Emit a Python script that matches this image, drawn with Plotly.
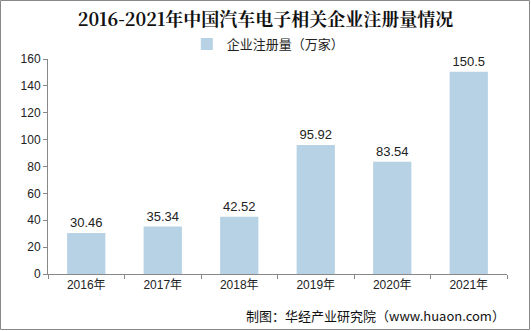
import plotly.graph_objects as go

categories = ["2016年", "2017年", "2018年", "2019年", "2020年", "2021年"]
values = [30.46, 35.34, 42.52, 95.92, 83.54, 150.5]
value_labels = ["30.46", "35.34", "42.52", "95.92", "83.54", "150.5"]
y_ticks = [0, 20, 40, 60, 80, 100, 120, 140, 160]

fig = go.Figure()
fig.add_trace(go.Bar(
    x=categories, y=values, name="企业注册量（万家）",
    marker=dict(color="#b7d2e4", line=dict(width=0)),
    width=0.5,
    text=value_labels, textposition="outside",
    textfont=dict(family="Liberation Sans, Arial", size=13, color="#222"),
    cliponaxis=False,
))

fig.update_layout(
    width=531, height=331,
    margin=dict(l=48, r=24, t=59, b=57),
    paper_bgcolor="white", plot_bgcolor="white",
    title=dict(text="<b>2016-2021年中国汽车电子相关企业注册量情况</b>",
               x=0.5, xanchor="center", y=0.94, yanchor="middle",
               font=dict(family="Noto Serif CJK SC, Noto Sans CJK SC", size=18, color="#111")),
    showlegend=True,
    legend=dict(orientation="h", x=0.48, xanchor="center", y=1.07, yanchor="middle",
                font=dict(family="Noto Sans CJK SC", size=13, color="#222"),
                itemwidth=30),
    font=dict(family="Liberation Sans, Arial", size=12, color="#222"),
    bargap=0.5,
)
fig.update_yaxes(range=[0, 160], tickvals=y_ticks, showgrid=False,
                 showline=True, linecolor="#888", linewidth=1,
                 ticks="outside", ticklen=4, tickcolor="#888",
                 tickfont=dict(size=12, color="#222"), zeroline=False)
fig.update_xaxes(showline=True, linecolor="#888", linewidth=1,
                 ticks="outside", ticklen=4, tickcolor="#888",
                 tickson="boundaries", showgrid=False,
                 tickfont=dict(family="Liberation Sans, Noto Sans CJK SC", size=12, color="#222"))

fig.add_annotation(text="制图：华经产业研究院（www.huaon.com）", xref="paper", yref="paper",
                   x=1.0, y=-0.195, xanchor="right", yanchor="middle", showarrow=False,
                   font=dict(family="Noto Sans CJK SC", size=13, color="#111"))
pw, ph = 459, 215
fig.add_shape(type="rect", xref="paper", yref="paper",
              x0=(-48 + 0.5) / pw, x1=(459 + 24 - 1.5) / pw,
              y0=(-57 + 1.5) / ph, y1=(215 + 59 - 0.5) / ph,
              line=dict(color="#888", width=1))

fig.write_html("out.html")
